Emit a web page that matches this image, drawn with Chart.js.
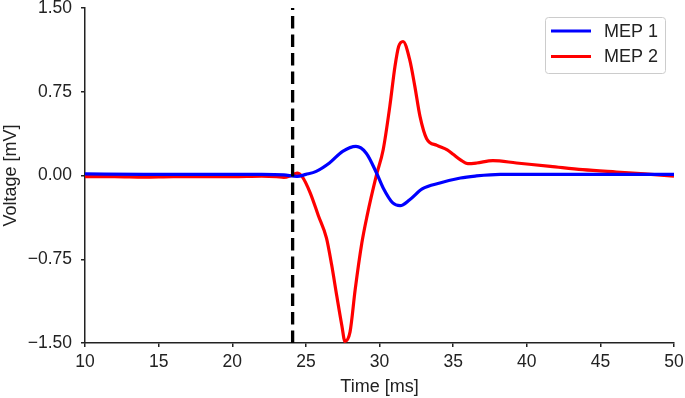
<!DOCTYPE html>
<html>
<head>
<meta charset="utf-8">
<script src="https://cdn.jsdelivr.net/npm/chart.js@4"></script>
<style>
  body { margin: 0; background: #fff; }
  #wrap { width: 685px; height: 398px; }
</style>
</head>
<body>
<div id="wrap"><canvas id="mep" width="685" height="398"></canvas></div>
<script>
// MEP traces (time in ms, voltage in mV)
const mep1Time = [10, 14, 18, 22, 23.5, 24.4, 25.0, 25.7, 26.6, 27.5, 28.4, 29.1, 29.8, 30.25, 30.9, 31.4, 32.05, 32.9, 34.1, 35.5, 36.5, 38.2, 42, 46, 50];
const mep1Volt = [0.015, 0.01, 0.01, 0.01, 0.005, -0.008, 0.01, 0.037, 0.112, 0.216, 0.26, 0.2, 0.022, -0.112, -0.246, -0.27, -0.217, -0.12, -0.067, -0.022, -0.005, 0.01, 0.01, 0.01, 0.01];

const mep2Time = [10, 12, 14, 16, 18, 20, 22, 23.0, 23.5, 24.0, 24.4, 24.75, 25.3, 25.85, 26.4, 26.75, 27.1, 27.45, 27.65, 28.0, 28.35, 28.8, 29.15, 29.8, 30.25, 30.7, 31.05, 31.3, 31.6, 32.05, 32.4, 32.75, 33.2, 33.9, 34.6, 35.0, 35.5, 36.0, 36.6, 37.7, 39.3, 41.6, 43.8, 46.1, 48, 50];
const mep2Volt = [-0.01, -0.01, -0.015, -0.01, -0.01, -0.01, -0.005, -0.01, -0.017, 0.0, 0.022, -0.01, -0.157, -0.36, -0.56, -0.8, -1.08, -1.35, -1.485, -1.40, -1.02, -0.605, -0.366, 0.007, 0.231, 0.619, 0.976, 1.155, 1.20, 1.037, 0.798, 0.529, 0.33, 0.27, 0.23, 0.19, 0.14, 0.106, 0.112, 0.133, 0.112, 0.082, 0.052, 0.031, 0.015, -0.005];

const stimTime = 24.1; // dashed marker
const yTicks = [-1.5, -0.75, 0, 0.75, 1.5];
const seriesLabels = ['MEP 1', 'MEP 2'];
const seriesColors = ['#0000ff', '#ff0000'];

const FONT = 'Liberation Sans, Arial, sans-serif';
const TXT = '#222';

function toPoints(xs, ys) {
    return xs.map((x, i) => ({ x: x, y: ys[i] }));
}

// matplotlib style legend in upper right of the plot area
const boxLegend = {
    id: 'boxLegend',
    afterDraw(chart) {
        const c = chart.ctx;
        const a = chart.chartArea;
        const x0 = a.right - 129, y0 = a.top + 9, w = 120, h = 56;
        c.save();
        c.fillStyle = 'rgba(255,255,255,0.8)';
        c.strokeStyle = '#cccccc';
        c.lineWidth = 1;
        c.beginPath();
        c.roundRect(x0 + 0.5, y0 + 0.5, w, h, 3);
        c.fill();
        c.stroke();
        c.font = '18px ' + FONT;
        c.textBaseline = 'middle';
        seriesLabels.forEach((lab, i) => {
            const yy = y0 + 14 + i * 25.5;
            c.strokeStyle = seriesColors[i];
            c.lineWidth = 3;
            c.beginPath();
            c.moveTo(x0 + 6, yy);
            c.lineTo(x0 + 46, yy);
            c.stroke();
            c.fillStyle = TXT;
            c.fillText(lab, x0 + 59, yy + 1);
        });
        c.restore();
    }
};

const ctx = document.getElementById('mep').getContext('2d');

const chart_mep = new Chart(ctx, {
    type: 'line',
    data: {
        datasets: [{
            label: seriesLabels[0],
            data: toPoints(mep1Time, mep1Volt),
            borderColor: seriesColors[0],
            borderWidth: 3.2,
            pointRadius: 0,
            cubicInterpolationMode: 'monotone'
        }, {
            label: seriesLabels[1],
            data: toPoints(mep2Time, mep2Volt),
            borderColor: seriesColors[1],
            borderWidth: 3.2,
            pointRadius: 0,
            cubicInterpolationMode: 'monotone'
        }, {
            label: 'stim',
            data: [{ x: stimTime, y: yTicks[0] }, { x: stimTime, y: yTicks[yTicks.length - 1] }],
            borderColor: '#000',
            borderWidth: 3.3,
            borderDash: [12.5, 6],
            pointRadius: 0,
            order: -1
        }]
    },
    options: {
        responsive: false,
        animation: false,
        layout: { padding: { top: 8, right: 11, left: 0, bottom: 0 } },
        plugins: {
            legend: { display: false },
            tooltip: { enabled: false }
        },
        scales: {
            x: {
                type: 'linear',
                min: 10,
                max: 50,
                grid: { display: true, drawOnChartArea: false, drawTicks: true, tickLength: 4, tickColor: TXT, lineWidth: 1.5 },
                border: { color: TXT, width: 1.5 },
                ticks: { stepSize: 5, color: TXT, font: { family: FONT, size: 17.5 }, padding: 5, maxRotation: 0 },
                title: { display: true, text: 'Time [ms]', color: TXT, font: { family: FONT, size: 18 }, padding: { top: 0, bottom: 0 } },
                afterFit(scale) {
                    scale.height = 55;
                    scale.paddingLeft = 0;
                    scale.paddingRight = 0;
                }
            },
            y: {
                type: 'linear',
                min: -1.5,
                max: 1.5,
                afterBuildTicks(scale) { scale.ticks = yTicks.map(v => ({ value: v })); },
                grid: { display: true, drawOnChartArea: false, drawTicks: true, tickLength: 4, tickColor: TXT, lineWidth: 1.5 },
                border: { color: TXT, width: 1.5 },
                ticks: {
                    color: TXT,
                    font: { family: FONT, size: 17.5 },
                    padding: 9,
                    callback: v => v.toFixed(2).replace('-', '\u2212')
                },
                title: { display: true, text: 'Voltage [mV]', color: TXT, font: { family: FONT, size: 18 }, padding: { top: 0, bottom: 0 } },
                afterFit(scale) {
                    scale.width = 85;
                    scale.paddingTop = 0;
                    scale.paddingBottom = 0;
                }
            }
        }
    },
    plugins: [boxLegend]
});
</script>
</body>
</html>
